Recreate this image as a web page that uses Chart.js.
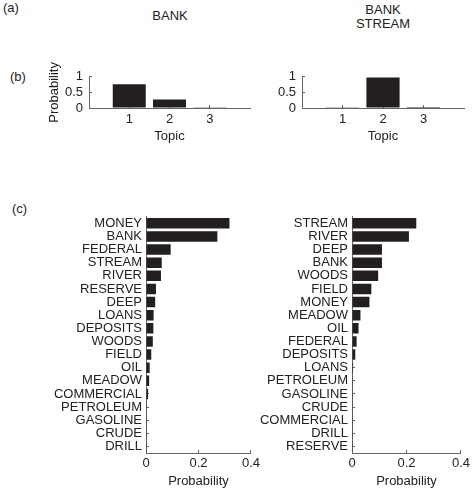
<!DOCTYPE html>
<html>
<head>
<meta charset="utf-8">
<script src="https://cdn.jsdelivr.net/npm/chart.js@4.4.1/dist/chart.umd.min.js"></script>
<style>
  html, body { margin: 0; padding: 0; background: #fff; }
  body { width: 474px; height: 488px; overflow: hidden; position: relative;
         font-family: "Liberation Sans", Arial, sans-serif; font-size: 13px; color: #222; }
  .box { position: absolute; }
  .lbl { position: absolute; line-height: 14px; white-space: nowrap; }
  .ctr { text-align: center; transform: translateX(-50%); }
</style>
</head>
<body>
<div class="lbl" style="left:3px; top:1px;">(a)</div>
<div class="lbl" style="left:10px; top:70px;">(b)</div>
<div class="lbl" style="left:12px; top:202px;">(c)</div>
<div class="lbl ctr" style="left:170px; top:9px;">BANK</div>
<div class="lbl ctr" style="left:383px; top:3px;">BANK<br>STREAM</div>

<div class="box" style="left:43px; top:60px; width:212px; height:88px;"><canvas id="topLeft"></canvas></div>
<div class="box" style="left:260px; top:60px; width:209px; height:88px;"><canvas id="topRight"></canvas></div>
<div class="box" style="left:0px; top:202px; width:266px; height:287px;"><canvas id="wordsLeft"></canvas></div>
<div class="box" style="left:240px; top:202px; width:236px; height:287px;"><canvas id="wordsRight"></canvas></div>

<script>
// topic distributions (panel b)
const topics = [1, 2, 3];
const bankTopicProb = [0.76, 0.27, 0.01];
const bankStreamTopicProb = [0.01, 0.98, 0.004];

// word distributions (panel c)
const bankWords = ["MONEY", "BANK", "FEDERAL", "STREAM", "RIVER", "RESERVE", "DEEP", "LOANS", "DEPOSITS",
  "WOODS", "FIELD", "OIL", "MEADOW", "COMMERCIAL", "PETROLEUM", "GASOLINE", "CRUDE", "DRILL"];
const bankWordProb = [0.318, 0.272, 0.094, 0.06, 0.057, 0.038, 0.035, 0.029, 0.028,
  0.026, 0.02, 0.014, 0.012, 0.008, 0.001, 0.001, 0.001, 0.001];

const streamWords = ["STREAM", "RIVER", "DEEP", "BANK", "WOODS", "FIELD", "MONEY", "MEADOW", "OIL",
  "FEDERAL", "DEPOSITS", "LOANS", "PETROLEUM", "GASOLINE", "CRUDE", "COMMERCIAL", "DRILL", "RESERVE"];
const streamWordProb = [0.236, 0.209, 0.11, 0.11, 0.096, 0.071, 0.064, 0.031, 0.024,
  0.017, 0.012, 0.004, 0.001, 0.001, 0.001, 0.001, 0.001, 0.001];

const topicTicks = [1, 2, 3];

const fontFamily = '"Liberation Sans", Arial, sans-serif';
const labelFont = { family: fontFamily, size: 13 };

Chart.defaults.font.family = fontFamily;
Chart.defaults.font.size = 13;
Chart.defaults.color = '#222';
Chart.defaults.animation = false;

const barColor = '#231f20';
const axisColor = '#666';

// matlab-ish axis: line on left/bottom, short ticks pointing inward
function axisGrid() {
  return { display: true, drawOnChartArea: false, drawTicks: true, tickLength: -3, color: axisColor, offset: false };
}
function axisBorder() {
  return { display: true, color: axisColor, width: 1 };
}
const plainNumber = (v) => String(Number(v.toFixed(2)));

function topicChart(id, probs, yAxisWidth, showTitle) {
  return new Chart(document.getElementById(id), {
    type: 'bar',
    data: {
      datasets: [{
        data: topics.map((t, i) => ({ x: t, y: probs[i] })),
        backgroundColor: barColor,
        categoryPercentage: 1,
        barPercentage: 0.82
      }]
    },
    options: {
      responsive: true,
      maintainAspectRatio: false,
      layout: { padding: { left: 0, top: 10, right: 5, bottom: 0 } },
      plugins: { legend: { display: false }, tooltip: { enabled: false } },
      scales: {
        x: {
          type: 'linear', min: 0, max: 4, offset: false,
          grid: axisGrid(), border: axisBorder(),
          ticks: { padding: 7, font: labelFont },
          afterBuildTicks: (scale) => { scale.ticks = topicTicks.map(v => ({ value: v })); },
          afterFit: (scale) => { scale.height = 40; },
          title: { display: true, text: 'Topic', font: labelFont, padding: { top: 4, bottom: 4 } }
        },
        y: {
          min: 0, max: 1,
          grid: axisGrid(), border: axisBorder(),
          ticks: { stepSize: 0.5, padding: 9, autoSkip: false, font: labelFont, callback: plainNumber },
          afterFit: (scale) => { scale.width = yAxisWidth; },
          title: { display: showTitle, text: 'Probability', font: labelFont, padding: { top: 4, bottom: 4 } }
        }
      }
    }
  });
}

function wordChart(id, words, probs, yAxisWidth) {
  return new Chart(document.getElementById(id), {
    type: 'bar',
    data: {
      labels: words,
      datasets: [{
        data: probs,
        backgroundColor: barColor,
        categoryPercentage: 1,
        barPercentage: 0.8
      }]
    },
    options: {
      indexAxis: 'y',
      responsive: true,
      maintainAspectRatio: false,
      layout: { padding: { left: 0, top: 0, right: 12, bottom: 0 } },
      plugins: { legend: { display: false }, tooltip: { enabled: false } },
      scales: {
        x: {
          min: 0, max: 0.4,
          grid: axisGrid(), border: axisBorder(),
          ticks: { stepSize: 0.2, padding: 6, font: labelFont, callback: plainNumber },
          afterFit: (scale) => { scale.height = 36; },
          title: { display: true, text: 'Probability', font: labelFont, padding: { top: 0, bottom: 0 } }
        },
        y: {
          grid: axisGrid(), border: axisBorder(),
          ticks: { padding: 7, autoSkip: false, font: labelFont },
          afterFit: (scale) => { scale.width = yAxisWidth; }
        }
      }
    }
  });
}

topicChart('topLeft', bankTopicProb, 46, true);
topicChart('topRight', bankStreamTopicProb, 42, false);
wordChart('wordsLeft', bankWords, bankWordProb, 146);
wordChart('wordsRight', streamWords, streamWordProb, 112);
</script>
</body>
</html>
